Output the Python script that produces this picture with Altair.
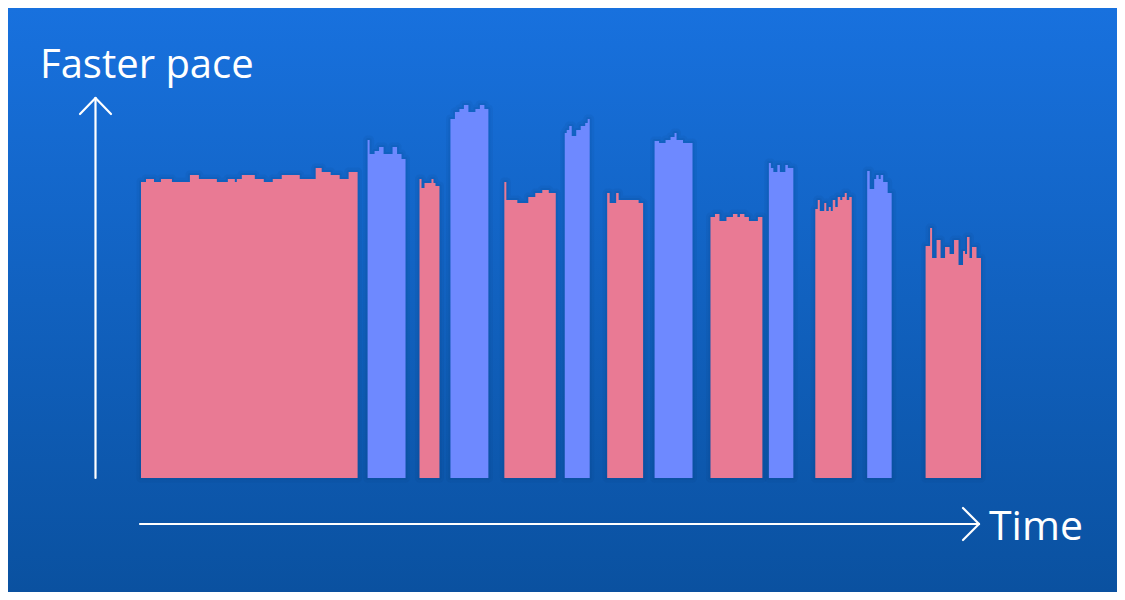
import altair as alt
import pandas as pd

# ---- data ----
kinds = ["easy", "interval", "easy", "interval", "easy", "interval", "easy",
         "interval", "easy", "interval", "easy", "interval", "easy"]
rest_before = [0, 10, 14, 11, 16, 9, 17.5, 11.5, 18, 6.5, 22, 15.5, 34]
step_durations = [
    [5, 8, 7, 11, 18, 9, 18, 11, 7, 2, 5, 13, 9, 9, 9, 18, 16, 6, 9, 9, 9, 9],
    [2, 5, 4.5, 4.5, 9, 4.5, 4.5, 4],
    [2, 3, 7, 2, 2, 4],
    [4.5, 4.5, 4.5, 4.5, 7, 4.5, 4.5, 4],
    [2, 11, 11, 7, 7, 6.5, 7],
    [2, 2.5, 2.5, 4.5, 4.5, 4.5, 2.5, 2],
    [2.5, 6.5, 2.5, 20, 4.5],
    [4.5, 6.5, 5, 4, 2, 6.5, 9.5],
    [4.5, 4.5, 7, 6.5, 4.5, 2.5, 4.5, 4.5, 9, 4.5],
    [2, 2.5, 4, 2.5, 5.5, 2.5, 5.5],
    [2.5, 2, 4.5, 2, 2.5, 2, 2, 2.5, 2.5, 2.5, 2, 2.5, 2, 2.5, 2.5],
    [2.5, 4.5, 2, 2.5, 2, 2.5, 4.5, 4],
    [4.5, 2, 4.5, 4, 4.5, 4.5, 4.5, 4.5, 4.5, 2, 2, 2.5, 2.5, 4.5, 4.5],
]
step_paces = [
    [296, 299, 296, 299, 296, 303, 299, 296, 299, 296, 299, 303, 299, 296, 299, 303, 299, 310, 306, 303, 299, 306],
    [338, 324, 327, 331, 324, 331, 324, 319],
    [299, 290, 295, 299, 295, 292],
    [359, 366, 369, 373, 366, 369, 373, 369],
    [296, 278, 275, 281, 285, 288, 285],
    [345, 348, 352, 342, 348, 352, 355, 359],
    [285, 275, 285, 278, 275],
    [337, 335, 338, 341, 345, 338, 335],
    [261, 264, 257, 261, 264, 261, 264, 261, 257, 261],
    [315, 310, 306, 313, 306, 313, 310],
    [269, 278, 267, 275, 267, 271, 267, 278, 271, 281, 278, 281, 285, 278, 281],
    [307, 289, 299, 303, 299, 303, 296, 285],
    [232, 250, 220, 238, 220, 231, 224, 238, 213, 227, 224, 241, 220, 231, 220],
]

rows = []
t = 0.0
for i, (k, gap, durs, paces) in enumerate(zip(kinds, rest_before, step_durations, step_paces)):
    t += gap
    for d, p in zip(durs, paces):
        rows.append({"seg": i, "kind": k, "t": t, "pace": p})
        t += d
    rows.append({"seg": i, "kind": k, "t": t, "pace": paces[-1]})
total = t
df = pd.DataFrame(rows)

W, H = 1109, 584
PINK = "#e97a94"
BLUE = "#6e89ff"

one = alt.Data(values=[{"a": 1}])

bg = alt.Chart(one).mark_rect(
    color=alt.Gradient(
        gradient="linear",
        stops=[alt.GradientStop(color="#1871de", offset=0),
               alt.GradientStop(color="#0a51a0", offset=1)],
        x1=0, y1=0, x2=0, y2=1,
    )
).encode(x=alt.value(0), x2=alt.value(W), y=alt.value(0), y2=alt.value(H))

xs = alt.Scale(domain=[0, total], range=[133, 973], nice=False, zero=False)
ys = alt.Scale(domain=[0, 400], range=[470, 70], nice=False)

base = alt.Chart(df).encode(
    x=alt.X("t:Q", scale=xs, axis=None),
    y=alt.Y("pace:Q", scale=ys, axis=None, stack=None),
    detail="seg:N",
)

shadow1 = base.mark_area(interpolate="step-after", color="#031f47", fillOpacity=0.0,
                         stroke="#031f47", strokeWidth=9, strokeOpacity=0.05,
                         strokeJoin="round")
shadow2 = base.mark_area(interpolate="step-after", color="#031f47", fillOpacity=0.0,
                         stroke="#031f47", strokeWidth=4, strokeOpacity=0.06,
                         strokeJoin="round")

bars = base.mark_area(interpolate="step-after").encode(
    color=alt.Color("kind:N", scale=alt.Scale(domain=["easy", "interval"], range=[PINK, BLUE]),
                    legend=None)
)


def seg(x1, y1, x2, y2):
    return alt.Chart(one).mark_rule(color="white", strokeWidth=2.2, strokeCap="round").encode(
        x=alt.value(x1), y=alt.value(y1), x2=alt.value(x2), y2=alt.value(y2)
    )


arrows = [
    seg(87.5, 470, 87.5, 90),
    seg(72, 106, 87.5, 90),
    seg(103, 106, 87.5, 90),
    seg(132, 516, 971, 516),
    seg(955, 500, 971, 516),
    seg(955, 532, 971, 516),
]

label_y = alt.Chart(one).mark_text(
    text="Faster pace", font="Open Sans", fontSize=40, color="white",
    align="left", baseline="alphabetic"
).encode(x=alt.value(32), y=alt.value(70))

label_x = alt.Chart(one).mark_text(
    text="Time", font="Open Sans", fontSize=41, color="white",
    align="left", baseline="alphabetic"
).encode(x=alt.value(981), y=alt.value(532))

chart = alt.layer(bg, shadow1, shadow2, bars, *arrows, label_y, label_x).properties(
    width=W, height=H, padding=0, autosize="none"
).configure_view(stroke=None).configure(background="#1565d0")

chart.save("out.html", embed_options={"renderer": "svg", "actions": False})
